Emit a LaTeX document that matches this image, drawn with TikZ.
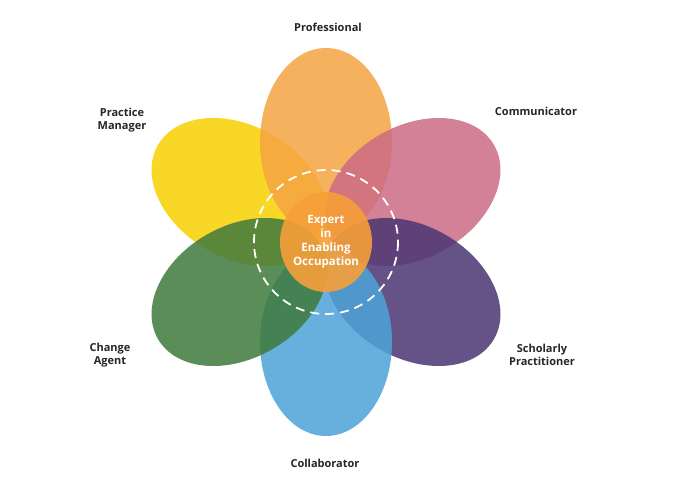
\documentclass[tikz,border=0pt]{standalone}
\usepackage{fontspec}
\setmainfont{Open Sans}
\begin{document}
\begin{tikzpicture}[x=1pt,y=-1pt,
  petal/.style={fill opacity=0.85,draw=none},
  lab/.style={font=\bfseries\fontsize{11}{13.5}\selectfont,align=center,text=black!85}]
\useasboundingbox[fill=white] (0,0) rectangle (675,484);
\definecolor{cOr}{HTML}{F5A443}
\definecolor{cPk}{HTML}{CC6B84}
\definecolor{cPu}{HTML}{4B3672}
\definecolor{cBl}{HTML}{4DA3D9}
\definecolor{cGr}{HTML}{3F7A3D}
\definecolor{cYe}{HTML}{F7D000}
\coordinate (c) at (326,242);
\foreach \a/\col in {-300/cYe,0/cOr,-60/cPk,-120/cPu,-180/cBl,-240/cGr}{
  \begin{scope}[shift={(c)},rotate=\a]
    \fill[petal,\col] (0,-100) ellipse [x radius=66,y radius=94];
  \end{scope}
}
\fill[cOr!85!orange,fill opacity=0.9] (c) ellipse [x radius=46,y radius=50];
\draw[white,line width=1.8pt,dash pattern=on 9pt off 6pt] (c) circle [radius=72];
\node[font=\bfseries\fontsize{11.5}{14}\selectfont,align=center,text=white] (ctr) at (c) {Expert\\in\\Enabling\\Occupation};
\node[lab] (pro) at (328,27) {Professional};
\node[lab] (com) at (536,111) {Communicator};
\node[lab] (pm) at (122,120) {Practice\\Manager};
\node[lab] (ca) at (110,355) {Change\\Agent};
\node[lab] (sp) at (542,355) {Scholarly\\Practitioner};
\node[lab] (col) at (325,463) {Collaborator};
\end{tikzpicture}
\end{document}
